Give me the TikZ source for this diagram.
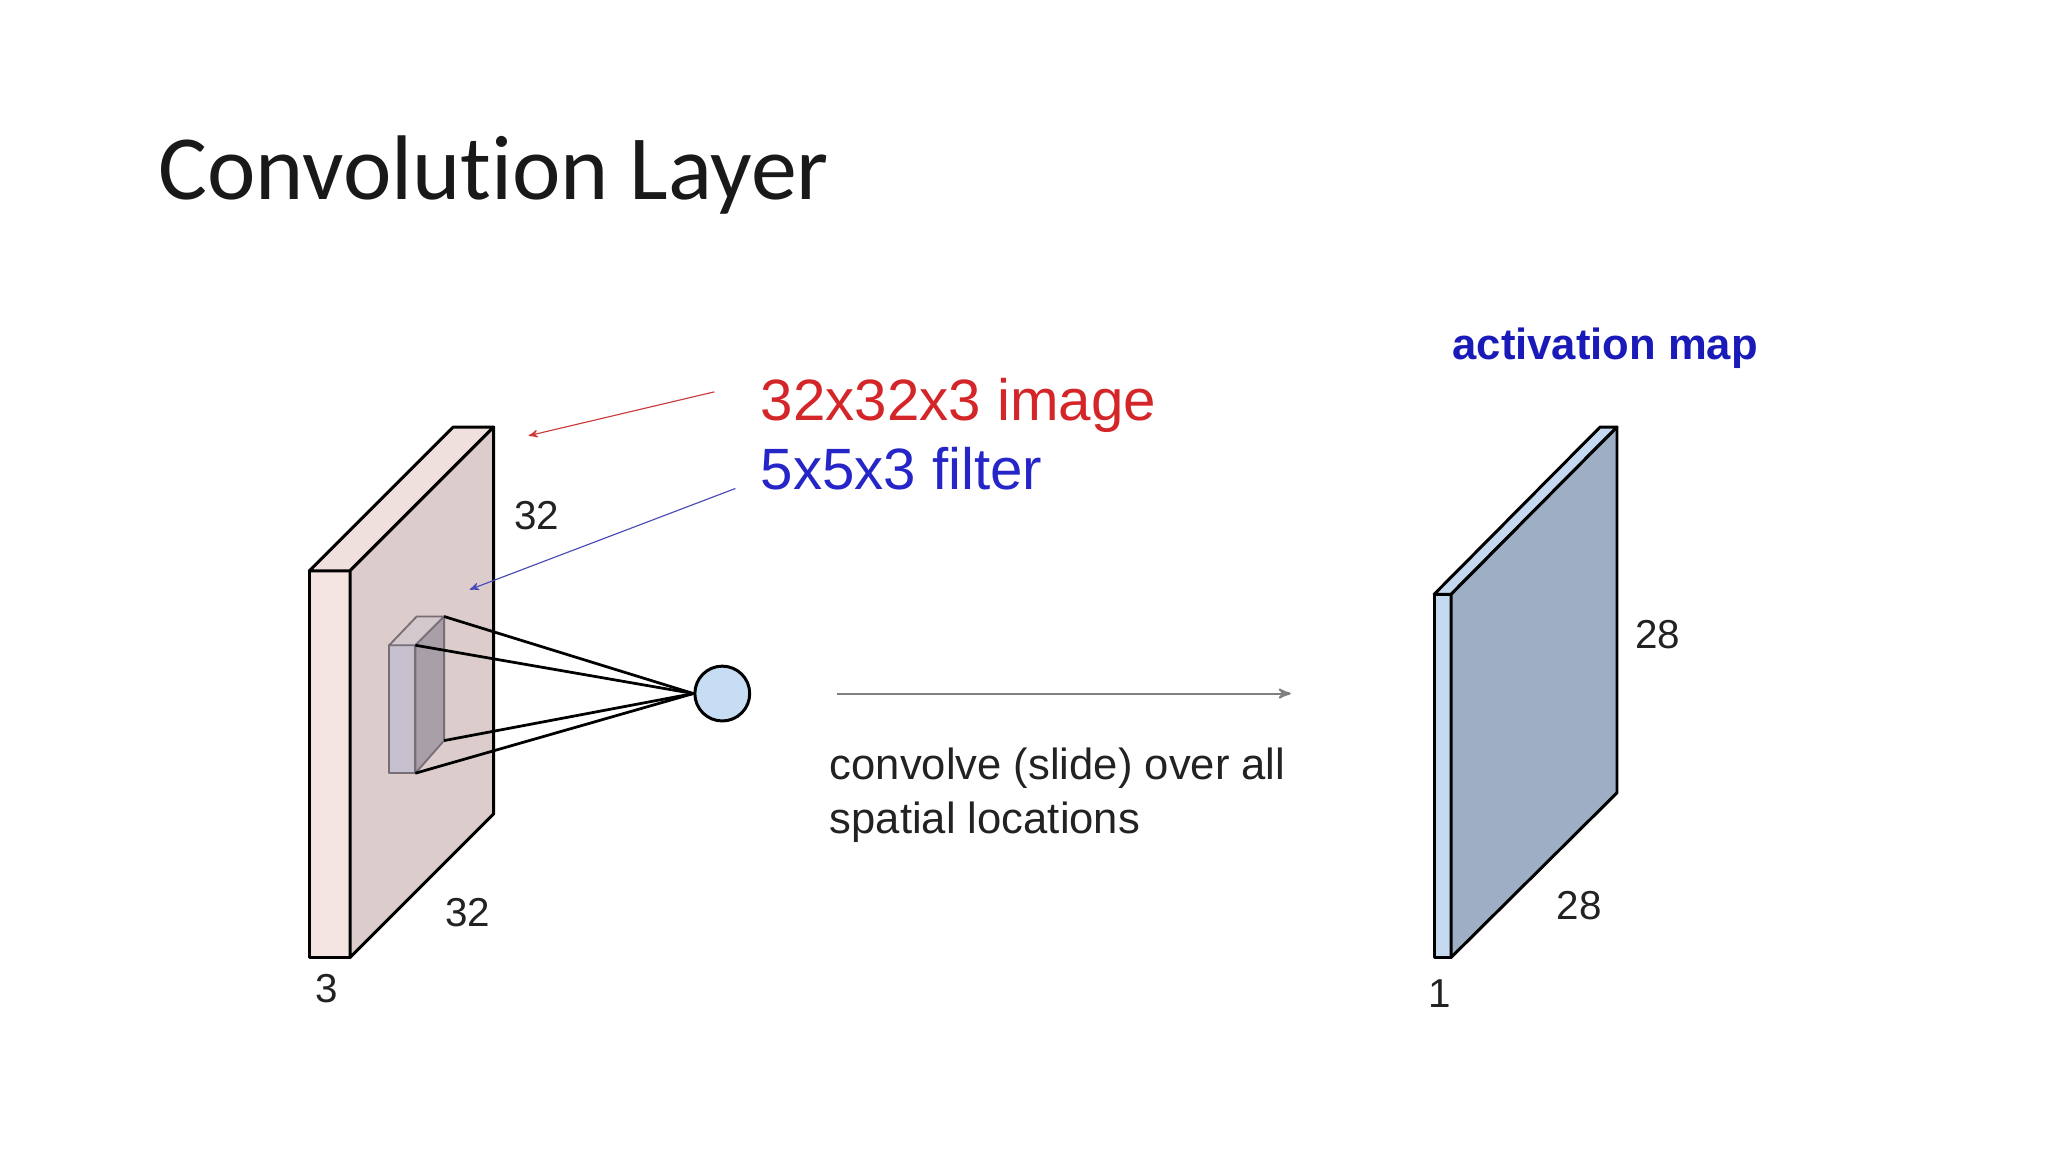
\documentclass[tikz,border=0pt]{standalone}
\usepackage{fontspec}
\setmainfont{Carlito}[Ligatures=NoCommon]
\newfontfamily\arialfont{Liberation Sans}
\usetikzlibrary{arrows}
\usetikzlibrary{positioning}
\definecolor{slabfront}{HTML}{F4E4E2}
\definecolor{slabtop}{HTML}{EFDFDD}
\definecolor{slabside}{HTML}{DCCCCB}
\definecolor{filterfront}{HTML}{C6BFCD}
\definecolor{filtertop}{HTML}{D3C8CC}
\definecolor{filterside}{HTML}{A89FA9}
\definecolor{filteredge}{HTML}{776E76}
\definecolor{neuronblue}{HTML}{C6DDF3}
\definecolor{mapfront}{HTML}{C4D8EF}
\definecolor{mapside}{HTML}{9EAFC5}
\definecolor{labelred}{HTML}{D42528}
\definecolor{labelblue}{HTML}{2626C8}
\definecolor{mapblue}{HTML}{1A1AB8}
\definecolor{arrowred}{HTML}{CC3A3A}
\definecolor{arrowblue}{HTML}{4A4AB8}
\definecolor{textgray}{HTML}{222222}

\begin{document}
\begin{tikzpicture}[x=0.02cm,y=-0.02cm,>=stealth',line join=round,
    dim label/.style={font=\arialfont\fontsize{17.6}{20}\selectfont,text=textgray,inner sep=0pt},
    big label/.style={anchor=base west,inner sep=0pt,font=\arialfont\fontsize{25.4}{30}\selectfont},
    note label/.style={anchor=base west,inner sep=0pt,text=textgray,font=\arialfont\fontsize{19}{23}\selectfont},
    slab edge/.style={draw=black,line width=1.3pt},
    filter edge/.style={draw=filteredge,line width=0.8pt},
    pointer/.style={->,line width=0.5pt,shorten >=1pt}]
  \useasboundingbox (0,0) rectangle (1568,882);
  \node[anchor=base west,inner sep=0pt,text=black!90,font=\fontsize{40}{48}\selectfont] (title) at (121,153) {Convolution Layer};

  % input volume
  \filldraw[slab edge,fill=slabfront] (237,437) rectangle (268,733);
  \filldraw[slab edge,fill=slabtop] (237,437) -- (347,327) -- (378,327) -- (268,437) -- cycle;
  \filldraw[slab edge,fill=slabside] (268,437) -- (378,327) -- (378,623) -- (268,733) -- cycle;
  % filter
  \coordinate (f1) at (340,472);
  \coordinate (f2) at (318,494);
  \coordinate (f3) at (340,567);
  \coordinate (f4) at (318,592);
  \filldraw[filter edge,fill=filterfront] (298,494) rectangle (f4);
  \filldraw[filter edge,fill=filtertop] (298,494) -- (319,472) -- (f1) -- (f2) -- cycle;
  \filldraw[filter edge,fill=filterside] (f2) -- (f1) -- (f3) -- (f4) -- cycle;
  \node[circle,draw,line width=1.3pt,fill=neuronblue,inner sep=0pt,minimum size=0.84cm] (neuron) at (553,531) {};
  \path[-,line width=1.2pt] (f1) edge (neuron.west);
  \path[-,line width=1.2pt] (f2) edge (neuron.west);
  \path[-,line width=1.2pt] (f3) edge (neuron.west);
  \path[-,line width=1.2pt] (f4) edge (neuron.west);

  \node[dim label] (side32) at (411,395) {32};
  \node[dim label] (base32) at (358,699) {32};
  \node[dim label] (depth3) at (250,757) {3};

  \node[big label,text=labelred] (imglabel) at (582,322) {32x32x3 image};
  \node[big label,text=labelblue] (fillabel) at (582,375) {5x5x3 filter};
  \coordinate (imgtail) at (547,300);
  \coordinate (imghead) at (403,334);
  \coordinate (filtail) at (563,374);
  \coordinate (filhead) at (358,452);
  \draw[pointer,draw=arrowred] (imgtail) -- (imghead);
  \draw[pointer,draw=arrowblue] (filtail) -- (filhead);

  % sliding
  \coordinate (slidetail) at (641,531);
  \coordinate (slidehead) at (990,531);
  \draw[->,line width=0.9pt,draw=gray,shorten >=1pt] (slidetail) -- (slidehead);
  \node[note label] (convolve) at (635,597) {convolve (slide) over all};
  \node[note label] (spatial) at (635,638) {spatial locations};

  % activation map
  \node[anchor=base,inner sep=0pt,text=mapblue,font=\arialfont\bfseries\fontsize{19}{22}\selectfont] (maptitle) at (1229,275) {activation map};
  \filldraw[slab edge,fill=mapfront] (1098,455) rectangle (1111,733);
  \filldraw[slab edge,fill=mapfront] (1098,455) -- (1225,327) -- (1238,327) -- (1111,455) -- cycle;
  \filldraw[slab edge,fill=mapside] (1111,455) -- (1238,327) -- (1238,607) -- (1111,733) -- cycle;
  \node[dim label] (side28) at (1269,486) {28};
  \node[dim label] (base28) at (1209,693) {28};
  \node[dim label] (depth1) at (1102,761) {1};
\end{tikzpicture}
\end{document}
